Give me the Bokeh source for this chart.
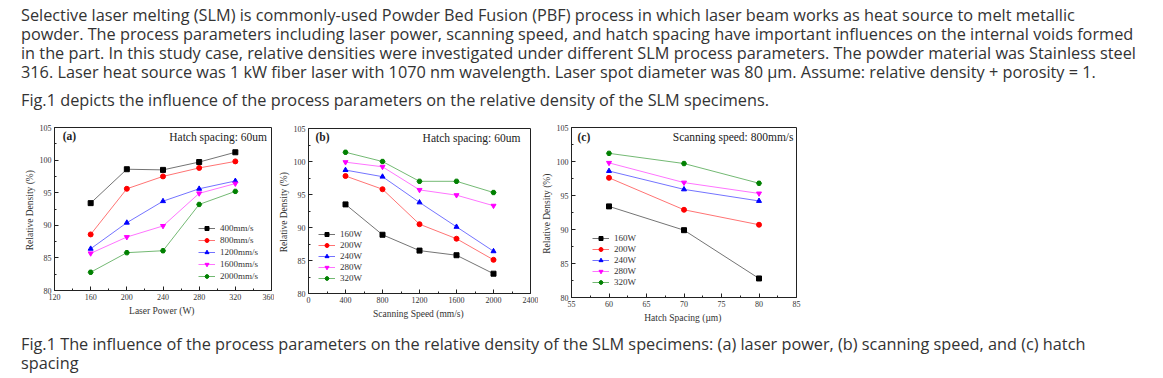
from bokeh.plotting import figure
from bokeh.models import Div, FixedTicker, Legend, LegendItem, Label, Range1d
from bokeh.layouts import column, row
from bokeh.embed import file_html
from bokeh.resources import INLINE

SERIF = "Liberation Serif"

# ---------------- data ----------------
# (a) relative density vs laser power, hatch spacing 60 um
power_w = [160, 200, 240, 280, 320]
a_labels = ["400mm/s", "800mm/s", "1200mm/s", "1600mm/s", "2000mm/s"]
a_400 = [93.4, 98.6, 98.5, 99.7, 101.2]
a_800 = [88.6, 95.6, 97.5, 98.8, 99.8]
a_1200 = [86.4, 90.4, 93.7, 95.6, 96.8]
a_1600 = [85.7, 88.2, 89.9, 94.9, 96.4]
a_2000 = [82.8, 85.8, 86.1, 93.2, 95.2]

# (b) relative density vs scanning speed, hatch spacing 60 um
speed_mms = [400, 800, 1200, 1600, 2000]
bc_labels = ["160W", "200W", "240W", "280W", "320W"]
b_160 = [93.5, 88.9, 86.5, 85.8, 83.0]
b_200 = [97.8, 95.8, 90.5, 88.3, 85.1]
b_240 = [98.7, 97.7, 93.8, 90.1, 86.4]
b_280 = [99.9, 99.2, 95.7, 94.9, 93.3]
b_320 = [101.4, 100.0, 97.0, 97.0, 95.3]

# (c) relative density vs hatch spacing, scanning speed 800 mm/s
hatch_um = [60, 70, 80]
c_160 = [93.4, 89.9, 82.8]
c_200 = [97.6, 92.9, 90.7]
c_240 = [98.6, 95.9, 94.2]
c_280 = [99.8, 96.9, 95.3]
c_320 = [101.2, 99.7, 96.8]

y_ticks = [80, 85, 90, 95, 100, 105]
a_xticks = [120, 160, 200, 240, 280, 320, 360]
b_xticks = [0, 400, 800, 1200, 1600, 2000, 2400]
c_xticks = [55, 60, 65, 70, 75, 80, 85]

colors = ["#000000", "#ff0000", "#0000ff", "#ff00ff", "#008000"]
markers = ["square", "circle", "triangle", "inverted_triangle", "hex"]

top_lines = [
    "Selective laser melting (SLM) is commonly-used Powder Bed Fusion (PBF) process in which laser beam works as heat source to melt metallic",
    "powder. The process parameters including laser power, scanning speed, and hatch spacing have important influences on the internal voids formed",
    "in the part. In this study case, relative densities were investigated under different SLM process parameters. The powder material was Stainless steel",
    "316. Laser heat source was 1 kW fiber laser with 1070 nm wavelength. Laser spot diameter was 80 \u00b5m. Assume: relative density + porosity = 1.",
]
fig_line = "Fig.1 depicts the influence of the process parameters on the relative density of the SLM specimens."
cap_lines = [
    "Fig.1 The influence of the process parameters on the relative density of the SLM specimens: (a) laser power, (b) scanning speed, and (c) hatch",
    "spacing",
]


def minor(ticks):
    step = ticks[1] - ticks[0]
    return [t + step / 2 for t in ticks[:-1]]


def make_fig(width, height, bl, br, bt, bb, xr, xticks, xlabel):
    p = figure(width=width, height=height, x_range=Range1d(*xr), y_range=Range1d(80, 105),
               output_backend="svg", toolbar_location=None,
               min_border_left=bl, min_border_right=br, min_border_top=bt, min_border_bottom=bb)
    p.xgrid.visible = False
    p.ygrid.visible = False
    p.outline_line_color = "#222222"
    p.outline_line_width = 1
    p.xaxis.ticker = FixedTicker(ticks=xticks, minor_ticks=minor(xticks))
    p.yaxis.ticker = FixedTicker(ticks=y_ticks, minor_ticks=minor(y_ticks))
    p.xaxis.axis_label = xlabel
    p.yaxis.axis_label = "Relative Density  (%)"
    for ax in (p.xaxis[0], p.yaxis[0]):
        ax.axis_line_color = "#222222"
        ax.major_tick_line_color = "#222222"
        ax.minor_tick_line_color = "#222222"
        ax.major_tick_in = 4
        ax.major_tick_out = 0
        ax.minor_tick_in = 2
        ax.minor_tick_out = 0
        ax.major_label_text_font = SERIF
        ax.major_label_text_font_size = "8px"
        ax.major_label_text_color = "#333333"
        ax.major_label_standoff = 3
        ax.axis_label_text_font = SERIF
        ax.axis_label_text_font_size = "9.5px"
        ax.axis_label_text_font_style = "normal"
        ax.axis_label_text_color = "#333333"
    p.xaxis[0].axis_label_standoff = 3
    p.yaxis[0].axis_label_standoff = 2
    return p


def add_series(p, xs, series, labels, loc, item_h, spacing):
    items = []
    for ys, lab, c, m in zip(series, labels, colors, markers):
        lr = p.line(xs, ys, line_color=c, line_width=1, line_alpha=0.55)
        sr = p.scatter(xs, ys, marker=m, size=5, fill_color=c, line_color=c)
        items.append(LegendItem(label=lab, renderers=[lr, sr]))
    leg = Legend(items=items, location=loc, orientation="vertical",
                 background_fill_alpha=0, border_line_alpha=0,
                 padding=0, margin=0, spacing=spacing,
                 glyph_width=17, glyph_height=item_h, label_height=item_h,
                 label_standoff=5, label_text_font=SERIF, label_text_font_size="9px",
                 label_text_color="#333333")
    p.add_layout(leg)


def add_titles(p, tag, tag_xy, title, title_xy):
    p.add_layout(Label(x=tag_xy[0], y=tag_xy[1], text=tag, text_font=SERIF, text_font_size="11.5px",
                       text_font_style="bold", text_color="#222222", text_baseline="middle"))
    p.add_layout(Label(x=title_xy[0], y=title_xy[1], text=title, text_font=SERIF, text_font_size="11.5px",
                       text_color="#222222", text_baseline="middle", text_align="right"))


# figure (a)
fa = make_fig(274, 214, 54, 3, 11, 40, (120, 360), a_xticks, "Laser Power  (W)")
add_series(fa, power_w, [a_400, a_800, a_1200, a_1600, a_2000], a_labels, (144, 9), 10, 2)
add_titles(fa, "(a)", (129, 103.7), "Hatch spacing: 60um", (355, 103.6))

# figure (b)
fb = make_fig(264, 214, 34, 8, 12, 37, (0, 2400), b_xticks, "Scanning Speed  (mm/s)")
add_series(fb, speed_mms, [b_160, b_200, b_240, b_280, b_320], bc_labels, (10, 10), 10, 1)
add_titles(fb, "(b)", (75, 103.7), "Hatch spacing: 60um", (2290, 103.6))

# figure (c)
fc = make_fig(272, 214, 31, 14, 11, 33, (55, 85), c_xticks, "Hatch Spacing  (\u00b5m)")
add_series(fc, hatch_um, [c_160, c_200, c_240, c_280, c_320], bc_labels, (21, 10), 10, 1)
add_titles(fc, "(c)", (55.8, 103.6), "Scanning speed: 800mm/s", (84.6, 103.6))

top_html = ('<div style="font-family:\'Open Sans\';font-size:16.3px;line-height:19px;color:#333333;'
            'padding:6px 0 0 21px;white-space:nowrap">' + "<br>".join(top_lines) +
            '<div style="margin-top:9px">' + fig_line + '</div></div>')
cap_html = ('<div style="font-family:\'Open Sans\';font-size:16.3px;line-height:19px;color:#333333;'
            'padding:5px 0 0 21px;white-space:nowrap">' + "<br>".join(cap_lines) + '</div>')

div_top = Div(text=top_html, width=1160, height=116, margin=(0, 0, 0, 0))
div_cap = Div(text=cap_html, width=1160, height=46, margin=(0, 0, 0, 0))

charts = row(column(fa), column(fb), column(fc), spacing=0)
layout = column(div_top, charts, div_cap, spacing=0)

open("out.html", "w").write(file_html(layout, INLINE))
